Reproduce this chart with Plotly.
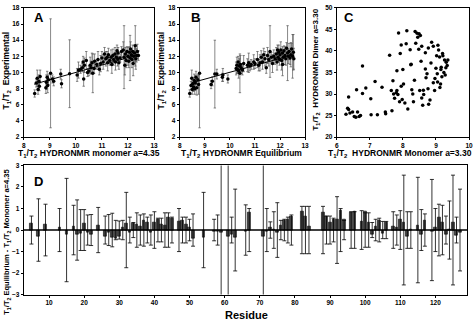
import plotly.graph_objects as go

W, H = 474, 326

# ---------------- Panel A data: HYDRONMR monomer a=4.35 vs experimental ----------------
a_x = [8.42, 8.48, 8.52, 8.55, 8.58, 8.60, 8.63, 8.85, 8.87, 8.90, 8.92, 8.95, 9.03, 9.10, 9.15,
       9.42, 9.45, 9.76, 10.05, 10.10, 10.18, 10.25, 10.28, 10.30, 10.33, 10.40, 10.45, 10.50, 10.55,
       10.58, 10.62, 10.65, 10.70, 10.72, 10.80, 10.85, 10.90, 10.95, 11.00, 11.05, 11.10, 11.15,
       11.20, 11.22, 11.25, 11.30, 11.35, 11.38, 11.42, 11.45, 11.50, 11.52, 11.55, 11.58, 11.60,
       11.62, 11.65, 11.70, 11.75, 11.82, 11.85, 11.88, 11.90, 11.93, 11.96, 12.00, 12.03, 12.05,
       12.08, 12.10, 12.13, 12.15, 12.18, 12.20, 12.22, 12.25, 12.28, 12.30, 12.33, 12.36, 12.40]
a_y = [7.4, 8.7, 9.3, 7.9, 8.9, 8.3, 9.5, 8.1, 8.8, 9.4, 8.4, 9.1, 9.9, 9.2, 8.9,
       9.8, 8.6, 9.85, 9.7, 10.3, 10.4, 10.6, 11.3, 9.2, 10.9, 11.5, 10.0, 10.2, 10.9,
       10.6, 11.2, 9.9, 10.5, 11.4, 11.0, 11.6, 10.4, 11.1, 11.8, 11.3, 12.3, 11.7,
       11.9, 11.2, 12.2, 11.5, 11.9, 11.0, 12.1, 11.6, 12.3, 11.3, 11.9, 12.7, 11.7,
       12.4, 11.2, 11.8, 12.6, 12.8, 11.9, 10.9, 12.3, 11.5, 12.6, 12.0, 11.4, 12.5,
       11.8, 12.9, 12.2, 11.6, 12.6, 11.1, 12.0, 12.4, 13.3, 11.7, 12.1, 12.6, 12.1]
a_err = [0.45, 0.5, 1.0, 0.6, 0.8, 0.55, 0.8, 0.7, 0.9, 0.75, 0.9, 0.6, 6.75, 0.5, 0.55,
         0.6, 0.5, 4.2, 0.8, 1.0, 0.5, 0.5, 0.7, 0.9, 0.9, 1.1, 0.5, 0.6, 1.0,
         0.8, 1.2, 2.4, 0.6, 0.9, 0.6, 1.0, 0.7, 1.0, 0.8, 0.9, 0.8, 0.9,
         0.7, 1.0, 0.8, 0.6, 0.9, 1.1, 0.8, 0.7, 0.8, 1.0, 0.6, 0.7, 0.9,
         0.7, 0.8, 0.5, 0.6, 1.0, 3.9, 1.2, 0.8, 0.9, 0.6, 1.1, 0.8, 0.7,
         2.8, 0.9, 0.6, 1.0, 0.8, 1.5, 0.7, 1.0, 2.5, 1.3, 0.8, 0.9, 0.6]
a_fit_x = [8.4, 12.4]
a_fit_y = [8.55, 12.2]

# ---------------- Panel B data: HYDRONMR equilibrium vs experimental ----------------
b_x = [8.40, 8.45, 8.48, 8.50, 8.52, 8.55, 8.58, 8.60, 8.62, 8.65, 8.68, 8.72, 8.79, 8.75, 9.25,
       9.30, 9.40, 9.48, 9.70, 9.72, 9.92, 10.25, 10.28, 10.30, 10.33, 10.35, 10.38, 10.40, 10.42,
       10.45, 10.50, 10.55, 10.70, 10.75, 10.80, 10.85, 10.95, 11.00, 11.10, 11.15, 11.20, 11.25,
       11.30, 11.35, 11.40, 11.45, 11.50, 11.55, 11.60, 11.65, 11.70, 11.75, 11.80, 11.85, 11.88,
       11.92, 11.95, 11.98, 12.00, 12.03, 12.06, 12.10, 12.13, 12.16, 12.20, 12.23, 12.26, 12.30,
       12.33, 12.36, 12.40, 12.43, 12.46, 12.50, 12.53, 12.55, 12.10, 11.90]
b_y = [7.4, 8.4, 9.3, 7.9, 8.6, 8.2, 9.0, 8.0, 8.7, 9.4, 8.1, 9.1, 9.9, 8.5, 8.5,
       8.9, 9.8, 9.8, 9.4, 9.7, 9.2, 10.5, 10.9, 10.4, 11.3, 10.2, 10.8, 9.9, 11.0,
       10.6, 10.3, 11.1, 10.9, 11.2, 10.8, 11.0, 11.3, 11.1, 11.6, 10.9, 11.2, 11.9,
       11.3, 12.2, 11.7, 10.6, 12.1, 11.6, 12.6, 11.9, 11.1, 12.0, 11.7, 12.3, 11.3,
       11.9, 12.5, 11.6, 12.2, 12.8, 11.5, 12.4, 11.9, 12.7, 12.1, 11.7, 13.0, 12.4,
       12.0, 12.6, 11.8, 12.2, 12.9, 12.0, 12.5, 11.7, 11.0, 12.8]
b_err = [0.45, 0.5, 1.0, 0.6, 0.8, 0.55, 0.8, 0.7, 0.9, 0.75, 0.9, 0.6, 6.75, 1.2, 0.5,
         0.55, 4.2, 0.6, 0.5, 0.8, 0.5, 0.8, 1.0, 0.5, 0.7, 0.9, 0.9, 2.4, 1.1,
         0.5, 0.6, 1.0, 0.8, 1.2, 0.6, 0.6, 0.9, 0.6, 1.0, 0.7, 1.0, 0.8,
         0.9, 0.8, 0.9, 0.7, 1.0, 0.8, 3.2, 0.6, 1.1, 0.8, 0.7, 0.8, 1.0,
         0.6, 0.9, 0.7, 0.5, 1.0, 1.2, 0.8, 0.9, 0.6, 1.1, 0.8, 0.7, 3.4,
         0.9, 1.0, 0.8, 1.5, 0.7, 2.7, 2.2, 1.3, 1.4, 0.6]
b_fit_x = [8.5, 12.55]
b_fit_y = [8.75, 12.2]

# ---------------- Panel C data: monomer a=3.30 vs dimer a=3.30 ----------------
c_x = [6.36, 6.33, 6.36, 6.28, 6.48, 6.53, 6.63, 6.68, 6.72, 6.60, 6.78, 6.78, 6.88, 7.03, 7.04,
       7.16, 7.23, 7.37, 7.47, 7.48, 7.60, 7.67, 7.65, 7.70, 7.72, 7.75, 7.82, 7.82, 7.87, 7.85,
       7.90, 7.92, 7.95, 7.98, 8.00, 8.02, 8.06, 8.12, 8.15, 8.22, 8.25, 8.27, 8.30, 8.32, 8.37,
       8.39, 8.43, 8.49, 8.51, 8.55, 8.57, 8.57, 8.63, 8.68, 8.68, 8.73, 8.76, 8.77, 8.87, 8.92,
       8.92, 8.97, 9.02, 9.04, 9.06, 9.11, 9.14, 9.16, 9.18, 9.21, 9.24, 9.26, 9.31, 9.34, 9.28,
       6.40, 6.58, 8.24, 8.62, 8.45, 9.00, 9.08, 9.20, 9.12, 8.96, 8.82, 8.70, 8.60, 8.35, 8.10,
       7.95, 8.53, 9.36, 9.30, 8.48, 7.80, 8.85, 9.15, 8.78, 9.05]
c_y = [29.3, 26.7, 26.4, 25.3, 25.8, 24.8, 25.8, 24.8, 25.0, 31.0, 36.5, 30.1, 31.4, 28.9, 25.2,
       32.9, 25.2, 31.6, 25.8, 25.4, 39.0, 26.1, 30.8, 33.1, 30.0, 29.0, 35.4, 30.8, 44.2, 29.9,
       28.2, 39.4, 41.4, 28.7, 35.7, 32.3, 27.9, 44.7, 26.5, 40.3, 36.9, 31.0, 30.0, 28.2, 44.5,
       41.8, 44.1, 44.0, 30.8, 37.6, 41.1, 29.1, 29.9, 39.6, 35.8, 34.7, 31.2, 40.7, 42.0, 41.1,
       32.6, 33.6, 38.9, 34.7, 41.3, 38.6, 32.3, 36.2, 34.0, 38.9, 35.0, 37.9, 37.4, 36.6, 34.4,
       25.6, 24.6, 36.8, 30.9, 43.2, 36.0, 40.2, 39.4, 31.5, 30.8, 28.6, 33.8, 27.4, 33.2, 41.7,
       31.8, 43.6, 37.9, 36.1, 40.4, 30.3, 37.2, 35.7, 27.6, 32.8]

# ---------------- Panel D data: equilibrium - monomer per residue ----------------
d_res = [5, 7, 9, 13, 15, 17, 18, 19, 20, 21, 22, 24, 26, 27, 28, 29, 30, 31, 32, 33, 34, 35, 36,
         37, 38, 39, 40, 41, 42, 43, 44, 45, 47, 48, 49, 50, 51, 54, 57, 58, 59, 61, 62, 63, 66,
         67, 71, 72, 73, 74, 75, 76, 77, 78, 79, 82, 83, 84, 88, 89, 90, 91, 92, 93, 94, 96, 97,
         99, 100, 101, 102, 103, 104, 105, 106, 108, 109, 110, 111, 112, 113, 115, 116, 117, 119,
         120, 121, 122, 123, 124, 125, 126, 127]
d_diff = [0.3, -0.3, 0.25, 0.12, -0.2, 0.15, -0.2, -0.15, 0.3, -0.1, -0.2, 0.22, -0.3, -0.1, -0.35,
          -0.4, -0.3, 0.1, 0.3, -0.1, 0.3, 0.25, 0.15, 0.45, 0.35, -0.1, 0.35, 0.5, 0.25, 0.2,
          0.6, 0.55, 0.4, 0.45, 0.25, 0.1, -0.4, -0.35, -0.05, -0.05, -0.1, -0.3, -0.2, -0.35,
          -0.05, 0.8, -0.3, -0.05, 0.1, 0.05, -0.1, 0.2, 0.45, 0.5, 0.65, 0.85, 0.65, 0.15, 0.8,
          0.65, 0.35, 0.5, 0.5, 0.9, 0.5, 0.8, 0.85, 0.4, 0.85, 0.35, -0.2, 0.15, 0.45, -0.15,
          0.35, 0.15, 0.1, 0.5, 0.35, -0.3, 0.05, 0.2, -0.2, 0.45, -0.05, 0.1, 0.6, 0.35, -0.2,
          0.05, 0.35, -0.25, -0.1]
d_err = [0.65, 1.45, 1.2, 1.0, 2.4, 1.15, 1.4, 0.95, 0.95, 0.7, 0.72, 1.05, 0.65, 0.72, 0.78,
         0.45, 0.42, 0.45, 1.75, 0.6, 0.35, 0.8, 0.7, 0.75, 0.6, 0.7, 0.85, 0.55, 0.55, 0.8,
         0.8, 0.6, 1.0, 0.6, 0.6, 0.5, 0.75, 1.75, 0.5, 0.7, 5.0, 5.0, 0.6, 1.9,
         1.17, 1.0, 5.0, 1.0, 0.38, 0.85, 1.27, 0.45, 0.5, 0.6, 0.7, 1.1, 1.1, 1.1, 1.1,
         0.65, 0.65, 0.55, 1.55, 1.0, 0.45, 0.85, 0.85, 0.9, 0.8, 0.8, 0.35, 0.5, 0.55, 0.4,
         0.4, 0.85, 0.7, 0.9, 2.55, 0.85, 0.85, 2.45, 0.95, 0.75, 2.35, 1.0, 1.2, 1.15, 0.65,
         1.35, 2.55, 0.6, 1.9]
d_zero = [0] * len(d_res)

d_xticks = [10, 20, 30, 40, 50, 60, 70, 80, 90, 100, 110, 120]


def px(v):
    return v / W


def py(v):
    return 1 - v / H


FONT = "Liberation Sans, Arial, sans-serif"
tickfont = dict(family=FONT, size=6.5, color="black", weight="bold")

fig = go.Figure()

# Panel A
fig.add_trace(go.Scatter(x=a_x, y=a_y, mode="markers", xaxis="x", yaxis="y",
                         marker=dict(color="black", size=3.5),
                         error_y=dict(type="data", array=a_err, color="#555", thickness=0.7, width=1.2),
                         showlegend=False))
fig.add_trace(go.Scatter(x=a_fit_x, y=a_fit_y, mode="lines", xaxis="x", yaxis="y",
                         line=dict(color="black", width=1), showlegend=False))
# Panel B
fig.add_trace(go.Scatter(x=b_x, y=b_y, mode="markers", xaxis="x2", yaxis="y2",
                         marker=dict(color="black", size=3.5),
                         error_y=dict(type="data", array=b_err, color="#555", thickness=0.7, width=1.2),
                         showlegend=False))
fig.add_trace(go.Scatter(x=b_fit_x, y=b_fit_y, mode="lines", xaxis="x2", yaxis="y2",
                         line=dict(color="black", width=1), showlegend=False))
# Panel C
fig.add_trace(go.Scatter(x=c_x, y=c_y, mode="markers", xaxis="x3", yaxis="y3",
                         marker=dict(color="black", size=3.5), showlegend=False))
# Panel D: error bars (centered at zero), bars, zero line
fig.add_trace(go.Scatter(x=d_res, y=d_zero, mode="markers", xaxis="x4", yaxis="y4",
                         marker=dict(color="rgba(0,0,0,0)", size=1),
                         error_y=dict(type="data", array=d_err, color="black", thickness=0.8, width=2),
                         showlegend=False))
fig.add_trace(go.Bar(x=d_res, y=d_diff, xaxis="x4", yaxis="y4", width=0.75,
                     marker=dict(color="#4a4a4a", line=dict(color="black", width=0.6)),
                     showlegend=False))

fig.add_shape(type="line", xref="x4 domain", yref="y4", x0=0, x1=1, y0=0, y1=0,
              line=dict(color="black", width=1.5))

ax_common = dict(showline=True, linecolor="black", linewidth=1, mirror=True, ticks="outside",
                 ticklen=2, tickwidth=1, tickcolor="black", showgrid=False, zeroline=False,
                 tickfont=tickfont)

fig.update_layout(
    width=W, height=H, margin=dict(l=0, r=0, t=0, b=0),
    paper_bgcolor="white", plot_bgcolor="white", showlegend=False, bargap=0,
    xaxis=dict(domain=[px(22), px(154)], range=[8, 13], dtick=1, anchor="y", **ax_common),
    yaxis=dict(domain=[py(136), py(4)], range=[2, 18], dtick=2, anchor="x", **ax_common),
    xaxis2=dict(domain=[px(180), px(307)], range=[8, 13], dtick=1, anchor="y2", **ax_common),
    yaxis2=dict(domain=[py(136), py(4)], range=[2, 18], dtick=2, anchor="x2", **ax_common),
    xaxis3=dict(domain=[px(339), px(473)], range=[6, 10], dtick=1, anchor="y3", **ax_common),
    yaxis3=dict(domain=[py(136), py(4)], range=[20, 50], dtick=5, anchor="x3", **ax_common),
    xaxis4=dict(domain=[px(22), px(471)], range=[2.8, 129], tickvals=d_xticks, anchor="y4", **ax_common),
    yaxis4=dict(domain=[py(297), py(165)], range=[-3, 3], dtick=1, anchor="x4", **ax_common),
)

T = "T<sub>1</sub>/T<sub>2</sub>"
ann = []


def label(text, x, y, size, angle=0):
    ann.append(dict(text="<b>" + text + "</b>", x=px(x), y=py(y), xref="paper", yref="paper",
                    showarrow=False, textangle=angle, xanchor="center", yanchor="middle",
                    font=dict(family=FONT, size=size, color="black")))


# panel letters
label("A", 37, 14, 13)
label("B", 196, 14, 13)
label("C", 351, 14, 13)
label("D", 37, 181, 13)
# x titles
label(T + " HYDRONMR monomer a=4.35", 88, 153, 8.5)
label(T + " HYDRONMR Equilibrium", 243, 153, 8.5)
label(T + "  HYDRONMR Monomer a=3.30", 403, 153, 8.5)
label("Residue", 248, 318, 11)
# y titles
label(T + "  Experimental", 5, 68, 8.5, -90)
label(T + "  Experimental", 162, 68, 8.5, -90)
label(T + "  HYDRONMR Dimer a=3.30", 318, 67, 8, -90)
label(T + " Equilibrium - " + T + " Monomer a=4.35", 5, 243, 7.5, -90)

fig.update_layout(annotations=ann)

fig.write_html("out.html")
